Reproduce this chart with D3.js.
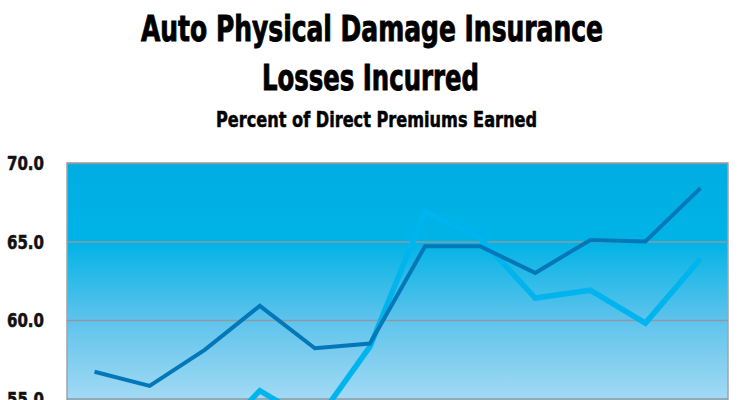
<!DOCTYPE html>
<html>
<head>
<meta charset="utf-8">
<script src="https://cdn.jsdelivr.net/npm/d3@7"></script>
<style>
  body { margin: 0; background: #fff; }
  svg { display: block; }
  text { font-family: "DejaVu Sans Condensed", "Liberation Sans Narrow", "Roboto", sans-serif; font-weight: bold; }
</style>
</head>
<body>
<div id="main"></div>
<script>
const ctx = {
    W: 740,
    H: 400,
    DARK: "#0378b9",
    LIGHT: "#00b4ee"
};
const margin = {top: 163, left: 67, right: 12};

// data (lower part of the chart is cropped)
const years = ["2005", "2006", "2007", "2008", "2009", "2010", "2011", "2012", "2013", "2014", "2015", "2016"];
const darkSeries = [56.7, 55.8, 58.1, 60.9, 58.2, 58.5, 64.7, 64.7, 63.0, 65.1, 65.0, 68.4];
const lightSeries = [52.6, 52.0, 51.8, 55.5, 53.4, 58.3, 66.9, 65.2, 61.4, 61.9, 59.8, 63.9];
const yTicks = [55, 60, 65, 70];

const titleLines = ["Auto Physical Damage Insurance", "Losses Incurred"];
const subtitle = "Percent of Direct Premiums Earned";

function createViz() {
    const svg = d3.select("#main").append("svg")
        .attr("width", ctx.W)
        .attr("height", ctx.H);

    const x = d3.scalePoint()
        .domain(years)
        .range([margin.left, ctx.W - margin.right])
        .padding(0.5);

    // one 5-point step is about 78.5px
    const y = d3.scaleLinear()
        .domain([55, 70])
        .range([margin.top + 235.5, margin.top]);

    const plotBottom = ctx.H + 20;

    // background gradient
    const defs = svg.append("defs");
    const grad = defs.append("linearGradient")
        .attr("id", "bg")
        .attr("gradientUnits", "userSpaceOnUse")
        .attr("x1", 0).attr("x2", 0)
        .attr("y1", y(70)).attr("y2", ctx.H);
    grad.append("stop").attr("offset", 0).attr("stop-color", "#00ade3");
    grad.append("stop").attr("offset", (y(65) - y(70)) / (ctx.H - y(70))).attr("stop-color", "#00b3e6");
    grad.append("stop").attr("offset", (y(60) - y(70)) / (ctx.H - y(70))).attr("stop-color", "#5ec3ec");
    grad.append("stop").attr("offset", 1).attr("stop-color", "#a3daf4");

    defs.append("clipPath").attr("id", "plotClip")
        .append("rect")
        .attr("x", margin.left).attr("y", y(70))
        .attr("width", ctx.W - margin.right - margin.left)
        .attr("height", plotBottom - y(70));

    svg.append("rect")
        .attr("x", margin.left).attr("y", y(70))
        .attr("width", ctx.W - margin.right - margin.left)
        .attr("height", plotBottom - y(70))
        .attr("fill", "url(#bg)")
        .attr("stroke", "#a0a4a8")
        .attr("stroke-width", 1.5);

    // gridlines + labels via axis
    const yAxis = d3.axisLeft(y)
        .tickValues(yTicks)
        .tickSize(-(ctx.W - margin.right - margin.left))
        .tickPadding(24)
        .tickFormat(d3.format(".1f"));

    const axisG = svg.append("g")
        .attr("transform", `translate(${margin.left},0)`)
        .call(yAxis);
    axisG.select(".domain").remove();
    axisG.selectAll(".tick line")
        .attr("stroke", "#8c9aa3")
        .attr("stroke-width", 1.5);
    axisG.selectAll(".tick text")
        .attr("font-size", 19)
        .attr("fill", "#111")
        .attr("stroke", "#111")
        .attr("stroke-width", 0.5)
        .attr("text-anchor", "start")
        .attr("x", -60)
        .attr("dy", "0.36em")
        .attr("textLength", 37)
        .attr("lengthAdjust", "spacingAndGlyphs");

    const line = d3.line()
        .x((d, i) => x(years[i]))
        .y(d => y(d));

    const linesG = svg.append("g").attr("clip-path", "url(#plotClip)");
    linesG.append("path")
        .datum(lightSeries)
        .attr("d", line)
        .attr("fill", "none")
        .attr("stroke", ctx.LIGHT)
        .attr("stroke-width", 5.5)
        .attr("stroke-linejoin", "miter");
    linesG.append("path")
        .datum(darkSeries)
        .attr("d", line)
        .attr("fill", "none")
        .attr("stroke", ctx.DARK)
        .attr("stroke-width", 4)
        .attr("stroke-linejoin", "miter");

    // titles (slight stroke to mimic a heavier condensed face)
    const titleG = svg.append("g")
        .attr("fill", "#000")
        .attr("stroke", "#000")
        .attr("text-anchor", "middle");
    titleG.append("text")
        .attr("x", 372).attr("y", 41)
        .attr("font-size", 36)
        .attr("stroke-width", 0.9)
        .attr("textLength", 462)
        .attr("lengthAdjust", "spacingAndGlyphs")
        .text(titleLines[0]);
    titleG.append("text")
        .attr("x", 370.5).attr("y", 89.5)
        .attr("font-size", 36)
        .attr("stroke-width", 0.9)
        .attr("textLength", 217)
        .attr("lengthAdjust", "spacingAndGlyphs")
        .text(titleLines[1]);
    titleG.append("text")
        .attr("x", 376.5).attr("y", 127)
        .attr("font-size", 22)
        .attr("stroke-width", 0.5)
        .attr("textLength", 321)
        .attr("lengthAdjust", "spacingAndGlyphs")
        .text(subtitle);
}

createViz();
</script>
</body>
</html>
